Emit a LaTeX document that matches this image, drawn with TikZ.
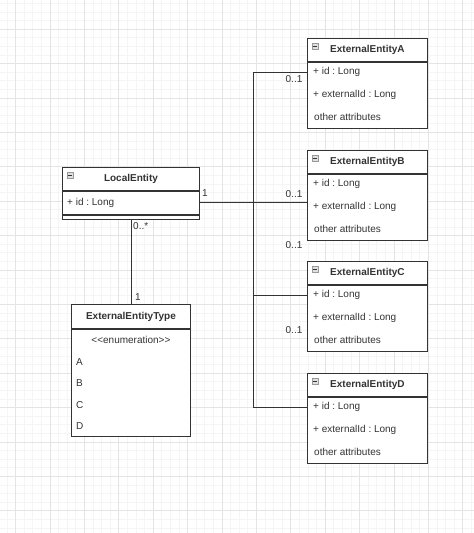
\documentclass[tikz,border=0pt]{standalone}
\usepackage{fontspec}
\setmainfont{Liberation Sans}
\usetikzlibrary{positioning}
\definecolor{linec}{HTML}{333333}
\definecolor{gridmin}{HTML}{F5F5F5}
\definecolor{gridmaj}{HTML}{E4E4E4}
\tikzset{
  headbox/.style={draw=linec, fill=white, line width=0.9pt, minimum height=23pt, inner sep=0pt, font=\bfseries, text=linec},
  bodybox/.style={draw=linec, fill=white, line width=0.9pt, inner sep=0pt},
  rowtext/.style={anchor=west, inner sep=0pt, text=linec},
  iconbox/.style={draw=gray!80, fill=gray!25, line width=0.5pt, minimum size=6pt, inner sep=0pt},
  link/.style={draw=linec, line width=0.9pt},
  mult/.style={inner sep=0pt, text=linec}
}
\begin{document}
\begin{tikzpicture}[x=1pt, y=-1pt, font=\fontsize{10}{12}\selectfont\frenchspacing]
    \useasboundingbox (0,0) rectangle (474,533);

    % 网格背景
    \fill[white] (0,0) rectangle (474,533);
    \foreach \i in {-1,...,53}
        \draw[gridmin, line width=0.5pt] ({15.5+8.6*\i},0) -- ({15.5+8.6*\i},533);
    \foreach \j in {-3,...,58}
        \draw[gridmin, line width=0.5pt] (0,{29+8.6*\j}) -- (474,{29+8.6*\j});
    \foreach \i in {0,...,13}
        \draw[gridmaj, line width=0.6pt] ({15.5+34.4*\i},0) -- ({15.5+34.4*\i},533);
    \foreach \j in {0,...,14}
        \draw[gridmaj, line width=0.6pt] (0,{29+34.4*\j}) -- (474,{29+34.4*\j});

    % LocalEntity
    \node[headbox, minimum width=137pt, anchor=north west] (local) at (62,167) {LocalEntity};
    \node[bodybox, minimum width=137pt, minimum height=23pt, below=0pt of local] (localbody) {};
    \node[bodybox, minimum width=137pt, minimum height=4pt, below=0pt of localbody] (localops) {};
    \node[rowtext] (localid) at ([xshift=5pt]localbody.west) {+ id : Long};
    \node[iconbox] (localicon) at ([xshift=8pt, yshift=-8pt]local.north west) {};
    \draw[gray!40!black, line width=0.7pt] ([xshift=1.3pt]localicon.west) -- ([xshift=-1.3pt]localicon.east);

    % ExternalEntityType
    \node[headbox, minimum width=119pt, minimum height=24pt, anchor=north west] (type) at (71,304) {ExternalEntityType};
    \node[bodybox, minimum width=119pt, minimum height=107pt, below=0pt of type] (typebody) {};
    \node[mult] (typestereo) at ([yshift=-11pt]typebody.north)
        {\textless\kern0pt\textless enumeration\textgreater\kern0pt\textgreater};
    \foreach \k/\dy in {A/33, B/54, C/76, D/97}
        \node[rowtext] (enum\k) at ([xshift=5pt, yshift=-\dy pt]typebody.north west) {\k};

    % ExternalEntityA--D
    \foreach \n/\y in {A/38, B/150, C/261, D/373} {
        \node[headbox, minimum width=120pt, anchor=north west] (head\n) at (307,\y) {ExternalEntity\n};
        \node[bodybox, minimum width=120pt, minimum height=66pt, below=0pt of head\n] (body\n) {};
        \node[rowtext] (id\n) at ([xshift=6pt, yshift=-10.5pt]body\n.north west) {+ id : Long};
        \node[rowtext] (ext\n) at ([xshift=6pt, yshift=-33pt]body\n.north west) {+ externalId : Long};
        \node[rowtext] (other\n) at ([xshift=7pt, yshift=-55pt]body\n.north west) {other attributes};
        \node[iconbox] (icon\n) at ([xshift=8pt, yshift=-8pt]head\n.north west) {};
        \draw[gray!40!black, line width=0.7pt] ([xshift=1.3pt]icon\n.west) -- ([xshift=-1.3pt]icon\n.east);
    }

    % 连线
    \coordinate (hub) at ([xshift=54pt]localbody.east);
    \draw[link] (localbody.east) -- (hub);
    \draw[link] (hub) -- (hub -| bodyB.west);
    \foreach \n in {A, C, D}
        \draw[link] (hub) |- (body\n.west |- id\n);
    \draw[link] (local.south |- localops.south) -- (type.north);

    % 多重性标注
    \node[mult] (multlocal) at (205,193) {1};
    \node[mult] (multA) at (294,79) {0..1};
    \node[mult] (multB) at (294,194) {0..1};
    \node[mult] (multC) at (294,245) {0..1};
    \node[mult] (multD) at (294,330) {0..1};
    \node[mult, anchor=west] (multmany) at (133,226) {0..*};
    \node[mult] (multtype) at (138,297) {1};
\end{tikzpicture}
\end{document}
